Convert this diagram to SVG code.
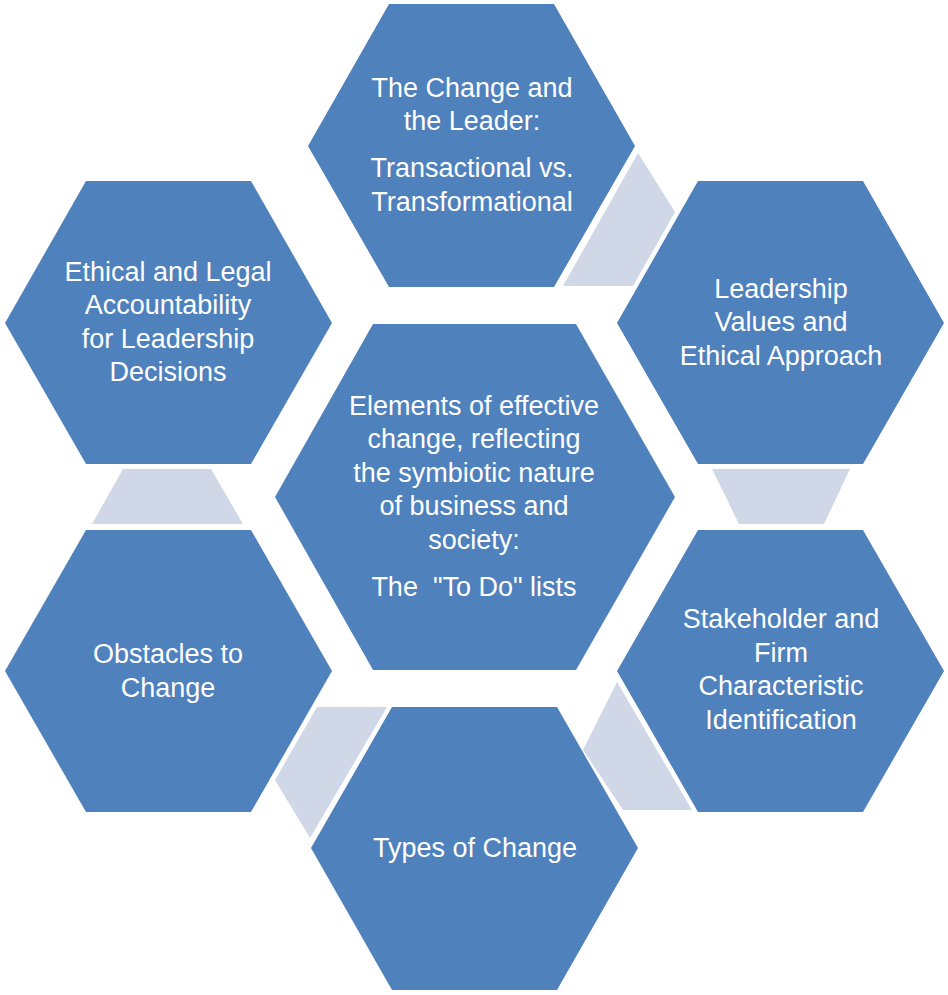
<svg xmlns="http://www.w3.org/2000/svg" width="948" height="995" viewBox="0 0 948 995">
<style>
.hex{fill:#4F81BD}
.con{fill:#D0D8E8}
text{font-family:"Liberation Sans",Arial,sans-serif;font-size:27px;fill:#FFFFFF;text-anchor:middle}
</style>
<rect width="948" height="995" fill="#FFFFFF"/>
<g id="connectors">
<polygon class="con" points="638,153 675,212 633,286 563,286"/>
<polygon class="con" points="712,469 850,469 824,524 739,524"/>
<polygon class="con" points="617,682 692,810 623,810 583,750"/>
<polygon class="con" points="317,707 387,707 310,838 275,780"/>
<polygon class="con" points="123,469 211,469 243,524 92,524"/>
</g>
<g id="center">
<polygon class="hex" points="275,497 373,324 576,324 675,497 576,670 373,670"/>
<text x="474" y="415">Elements of effective</text>
<text x="474" y="448">change, reflecting</text>
<text x="474" y="482">the symbiotic nature</text>
<text x="474" y="515">of business and</text>
<text x="474" y="549">society:</text>
<text x="474" y="596" xml:space="preserve">The  "To Do" lists</text>
</g>
<g id="top">
<polygon class="hex" points="308,146 389,4 554,4 635,146 554,287 389,287"/>
<text x="472" y="97">The Change and</text>
<text x="472" y="130">the Leader:</text>
<text x="472" y="177">Transactional vs.</text>
<text x="472" y="211">Transformational</text>
</g>
<g id="leadership">
<polygon class="hex" points="617,323 698,181 863,181 944,323 863,464 698,464"/>
<text x="781" y="298">Leadership</text>
<text x="781" y="331">Values and</text>
<text x="781" y="365">Ethical Approach</text>
</g>
<g id="stakeholder">
<polygon class="hex" points="617,671 698,530 863,530 944,671 863,812 698,812"/>
<text x="781" y="628">Stakeholder and</text>
<text x="781" y="662">Firm</text>
<text x="781" y="695">Characteristic</text>
<text x="781" y="729">Identification</text>
</g>
<g id="types">
<polygon class="hex" points="311,848 392,707 557,707 638,848 557,990 392,990"/>
<text x="475" y="857">Types of Change</text>
</g>
<g id="obstacles">
<polygon class="hex" points="5,671 86,530 251,530 332,671 251,812 86,812"/>
<text x="168" y="663">Obstacles to</text>
<text x="168" y="697">Change</text>
</g>
<g id="ethical">
<polygon class="hex" points="5,323 86,181 251,181 332,323 251,464 86,464"/>
<text x="168" y="281">Ethical and Legal</text>
<text x="168" y="314">Accountability</text>
<text x="168" y="348">for Leadership</text>
<text x="168" y="381">Decisions</text>
</g>
</svg>
